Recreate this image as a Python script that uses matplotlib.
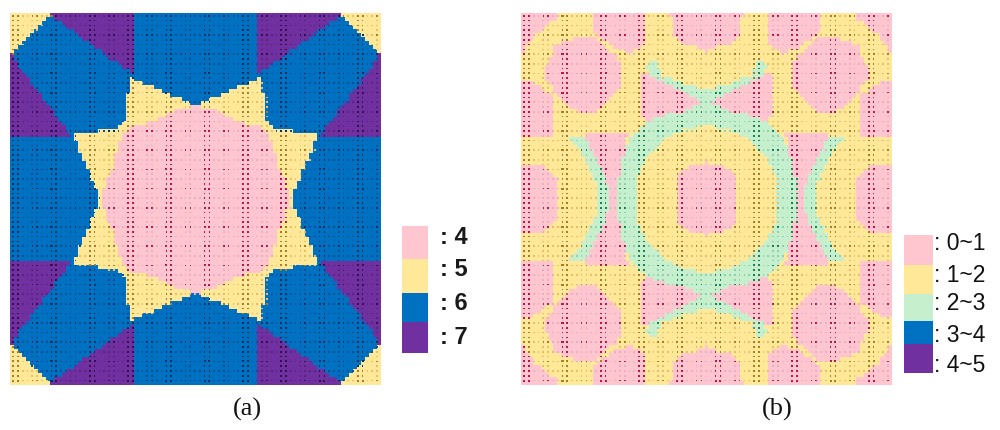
import numpy as np
import matplotlib
matplotlib.use('Agg')
import matplotlib.pyplot as plt
from matplotlib.colors import ListedColormap
from matplotlib.patches import Rectangle

# one quadrant of each map, read row by row: each run is (value, end column)
map_a_rows = [
    [(5,10),(7,31),(6,47)],
    [(5,9),(6,11),(7,31),(6,47)],
    [(5,8),(6,13),(7,31),(6,47)],
    [(5,7),(6,14),(7,31),(6,47)],
    [(5,6),(6,16),(7,31),(6,47)],
    [(5,5),(6,17),(7,31),(6,47)],
    [(5,4),(6,18),(7,31),(6,47)],
    [(5,3),(6,20),(7,31),(6,47)],
    [(5,2),(6,21),(7,31),(6,47)],
    [(5,1),(6,23),(7,31),(6,47)],
    [(7,1),(6,24),(7,31),(6,47)],
    [(7,1),(6,25),(7,31),(6,47)],
    [(7,2),(6,27),(7,31),(6,47)],
    [(7,2),(6,28),(7,31),(6,47)],
    [(7,3),(6,30),(7,31),(6,47)],
    [(7,4),(6,47)],
    [(7,5),(6,30),(5,31),(6,47)],
    [(7,5),(6,30),(5,33),(6,47)],
    [(7,6),(6,30),(5,36),(6,47)],
    [(7,7),(6,30),(5,38),(6,47)],
    [(7,8),(6,29),(5,40),(6,47)],
    [(7,8),(6,29),(5,43),(6,47)],
    [(7,9),(6,29),(5,45),(6,47)],
    [(7,10),(6,29),(5,45),(4,47)],
    [(7,11),(6,29),(5,41),(4,47)],
    [(7,11),(6,29),(5,39),(4,47)],
    [(7,12),(6,29),(5,37),(4,47)],
    [(7,13),(6,28),(5,34),(4,47)],
    [(7,14),(6,27),(5,30),(4,47)],
    [(7,14),(6,22),(5,29),(4,47)],
    [(7,15),(6,16),(5,28),(4,47)],
    [(6,16),(5,28),(4,47)],
    [(6,17),(5,27),(4,47)],
    [(6,17),(5,27),(4,47)],
    [(6,17),(5,27),(4,47)],
    [(6,18),(5,26),(4,47)],
    [(6,18),(5,26),(4,47)],
    [(6,19),(5,26),(4,47)],
    [(6,19),(5,26),(4,47)],
    [(6,20),(5,25),(4,47)],
    [(6,20),(5,25),(4,47)],
    [(6,20),(5,24),(4,47)],
    [(6,21),(5,24),(4,47)],
    [(6,21),(5,24),(4,47)],
    [(6,22),(5,23),(4,47)],
    [(6,22),(5,23),(4,47)],
    [(6,22),(5,23),(4,47)],
]

map_b_rows = [
    [(1,9),(2,18),(1,31),(2,37),(1,47)],
    [(1,9),(2,18),(1,31),(2,38),(1,47)],
    [(1,7),(2,18),(1,31),(2,38),(1,47)],
    [(1,6),(2,18),(1,31),(2,38),(1,47)],
    [(1,5),(2,18),(1,31),(2,38),(1,47)],
    [(1,3),(2,19),(1,31),(2,38),(1,47)],
    [(1,3),(2,13),(1,19),(2,20),(1,31),(2,39),(1,47)],
    [(1,2),(2,10),(1,20),(2,22),(1,31),(2,40),(1,47)],
    [(1,1),(2,8),(1,21),(2,23),(1,30),(2,44),(1,47)],
    [(1,1),(2,8),(1,22),(2,26),(1,28),(2,46),(1,47)],
    [(2,8),(1,24),(2,47)],
    [(2,7),(1,24),(2,47)],
    [(2,7),(1,25),(2,32),(3,34),(2,47)],
    [(2,6),(1,25),(2,31),(3,34),(2,47)],
    [(2,6),(1,25),(2,32),(3,35),(2,47)],
    [(2,6),(1,25),(2,30),(1,32),(3,35),(2,47)],
    [(2,6),(1,25),(2,30),(1,34),(3,38),(2,47)],
    [(1,3),(2,7),(1,25),(2,30),(1,36),(3,40),(2,47)],
    [(1,5),(2,8),(1,25),(2,30),(1,38),(3,44),(2,47)],
    [(1,6),(2,8),(1,24),(2,30),(1,40),(3,47)],
    [(1,8),(2,9),(1,23),(2,30),(1,42),(3,47)],
    [(1,8),(2,10),(1,22),(2,30),(1,44),(3,47)],
    [(1,8),(2,11),(1,21),(2,30),(1,45),(3,47)],
    [(1,8),(2,12),(1,20),(2,30),(1,43),(3,47)],
    [(1,8),(2,14),(1,19),(2,30),(1,41),(3,47)],
    [(1,8),(2,30),(1,36),(3,47)],
    [(1,8),(2,31),(1,33),(3,47)],
    [(1,8),(2,31),(3,47)],
    [(1,8),(2,30),(3,44),(2,47)],
    [(1,8),(2,29),(3,40),(2,47)],
    [(1,8),(2,16),(1,27),(2,28),(3,38),(2,47)],
    [(2,12),(3,16),(1,26),(2,27),(3,36),(2,47)],
    [(2,13),(3,17),(1,26),(2,27),(3,35),(2,47)],
    [(2,14),(3,17),(1,26),(3,34),(2,47)],
    [(2,15),(3,18),(1,26),(3,33),(2,47)],
    [(2,15),(3,18),(1,26),(3,32),(2,47)],
    [(2,16),(3,19),(1,25),(3,31),(2,47)],
    [(2,16),(3,19),(1,25),(3,31),(2,46),(1,47)],
    [(1,6),(2,17),(3,20),(1,25),(3,30),(2,42),(1,47)],
    [(1,7),(2,17),(3,20),(1,25),(3,30),(2,40),(1,47)],
    [(1,8),(2,18),(3,21),(1,25),(3,29),(2,39),(1,47)],
    [(1,9),(2,18),(3,21),(1,24),(3,29),(2,39),(1,47)],
    [(1,9),(2,19),(3,21),(1,24),(3,29),(2,39),(1,47)],
    [(1,9),(2,19),(3,22),(1,24),(3,29),(2,39),(1,47)],
    [(1,9),(2,19),(3,22),(1,24),(3,29),(2,39),(1,47)],
    [(1,9),(2,19),(3,22),(1,24),(3,29),(2,39),(1,47)],
    [(1,9),(2,19),(3,22),(1,24),(3,29),(2,39),(1,47)],
]

labels_a = [': 4', ': 5', ': 6', ': 7']
labels_b = [': 0~1', ': 1~2', ': 2~3', ': 3~4', ': 4~5']
colors_a = ['#FFC6D0', '#FFE898', '#0070C0', '#7030A0']
colors_b = ['#FFC6D0', '#FFE898', '#C6EFCE', '#0070C0', '#7030A0']
# dot tints over pink, yellow, green, blue, purple
strong_dots = ['#C0144C', '#A87C28', '#1C8058', '#00305E', '#32104E']
weak_dots = ['#E4AFC8', '#ECBC68', '#90D0AC', '#0A5098', '#5A2484']


def expand(rows):
    quad = []
    for row in rows:
        cells = []
        start = 0
        for val, end in row:
            cells += [val] * (end - start)
            start = end
        quad.append(cells)
    quad = np.array(quad)
    # mirrored in both directions, centre cell shared
    top = np.hstack([quad, quad[:, -2::-1]])
    return np.vstack([top, top[-2::-1]])


def draw_map(rect, grid, colors, index):
    ax = fig.add_axes([rect[0] / 1000, 1 - (rect[1] + rect[3]) / 430, rect[2] / 1000, rect[3] / 430])
    ax.imshow(grid, cmap=ListedColormap(colors), vmin=0, vmax=len(colors) - 1,
              interpolation='nearest', aspect='auto')
    n = grid.shape[0]
    px = []
    py = []
    pc = []
    ps = []
    # printed dot screen of the original scan
    for i, y in enumerate(np.arange(0.2, n, 1.2)):
        row_line = (i % 4) == 0
        for j, x in enumerate(np.arange(0.3, n, 1.2)):
            col_line = (j % 8) in (0, 1)
            col_pair = (j % 4) in (0, 1)
            if (i % 2) == 1 and not col_pair:
                continue
            cat = index[grid[int(y), int(x)]]
            px.append(x)
            py.append(y)
            if row_line and col_line:
                pc.append(strong_dots[cat])
                ps.append(2.2)
            elif col_line or (row_line and col_pair):
                pc.append(strong_dots[cat])
                ps.append(1.3)
            else:
                pc.append(weak_dots[cat])
                ps.append(1.5)
    ax.scatter(px, py, c=pc, s=ps, marker='s', linewidths=0)
    ax.set_xlim(-0.5, n - 0.5)
    ax.set_ylim(n - 0.5, -0.5)
    ax.axis('off')


fig = plt.figure(figsize=(10, 4.3), dpi=100)
grid_a = expand(map_a_rows)
grid_b = expand(map_b_rows)
draw_map((10, 13, 371, 372), grid_a - 4, colors_a, [0, 1, 3, 4])
draw_map((521, 13, 371, 372), grid_b - 1, colors_b[:3], [0, 1, 2])

# legends and captions in page pixels
page = fig.add_axes([0, 0, 1, 1], zorder=5)
page.set_xlim(0, 1000)
page.set_ylim(430, 0)
page.axis('off')

edges_a = [226, 259, 293, 322, 353]
text_y_a = [237, 270, 303, 338]
for k in range(len(labels_a)):
    page.add_patch(Rectangle((402, edges_a[k]), 26, edges_a[k + 1] - edges_a[k], fc=colors_a[k], ec='none'))
    page.text(440.5, text_y_a[k], labels_a[k], fontsize=17, fontweight='bold',
              family='Liberation Sans', color='#1a1a1a', va='center', ha='left')

edges_b = [235, 265, 294, 321, 344, 373]
text_y_b = [244, 275, 304, 335, 366]
for k in range(len(labels_b)):
    page.add_patch(Rectangle((904, edges_b[k]), 29, edges_b[k + 1] - edges_b[k], fc=colors_b[k], ec='none'))
    page.text(934, text_y_b[k], labels_b[k], fontsize=16.5,
              family='Liberation Sans', color='#111111', va='center', ha='left')

page.text(247, 409, '(a)', fontsize=19, family='Liberation Serif', color='#111111', ha='center', va='center')
page.text(777, 409, '(b)', fontsize=19, family='Liberation Serif', color='#111111', ha='center', va='center')

plt.savefig('out.png', dpi=100)
